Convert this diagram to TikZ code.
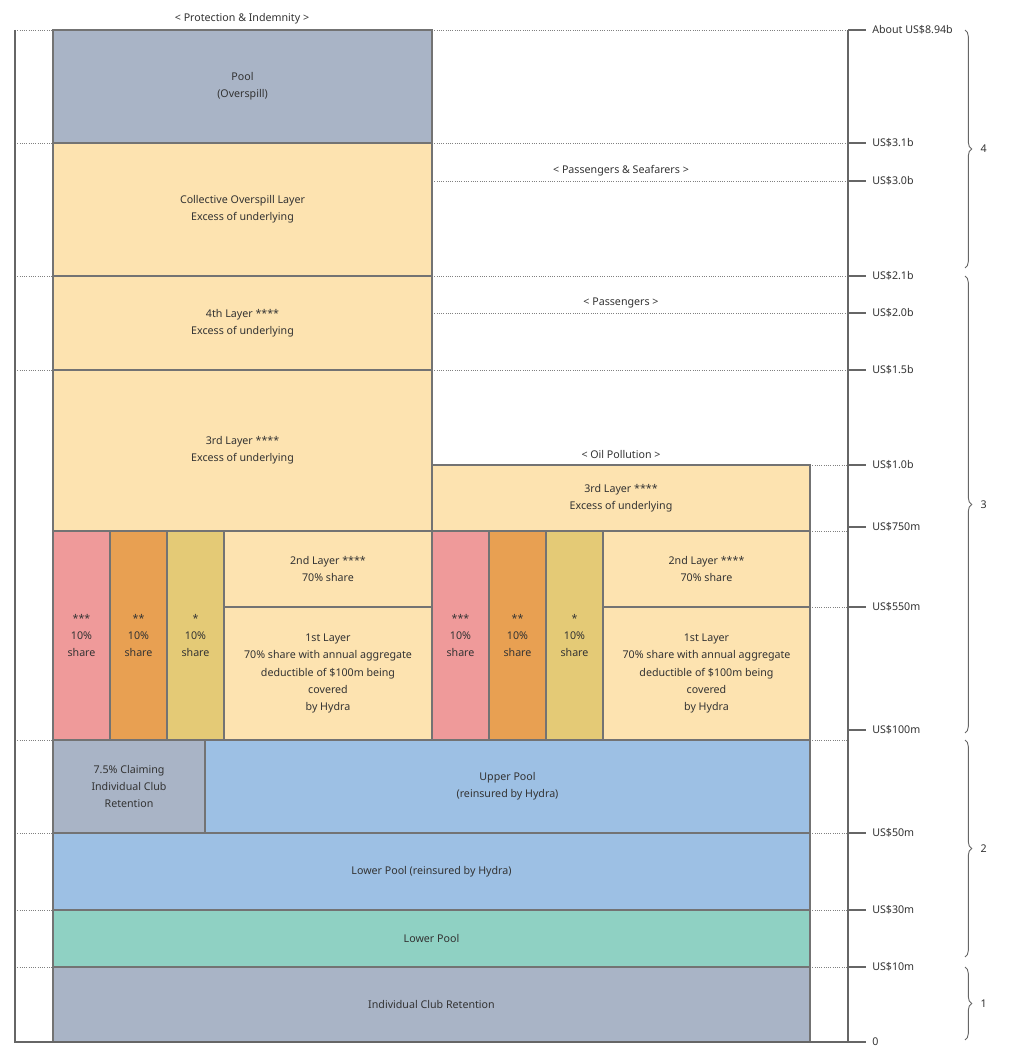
\documentclass[tikz,border=0pt]{standalone}
\usepackage{fontspec}
\setmainfont{Noto Sans}
\usetikzlibrary{decorations.pathreplacing}
\definecolor{poolgray}{HTML}{A9B4C6}
\definecolor{layer}{HTML}{FDE3B0}
\definecolor{pinkc}{HTML}{EF9A9A}
\definecolor{orangec}{HTML}{E8A052}
\definecolor{yellowc}{HTML}{E4CA76}
\definecolor{bluec}{HTML}{9DC0E4}
\definecolor{tealc}{HTML}{8FD1C3}
\tikzset{
  blk/.style={draw=gray!90!black, line width=0.9pt},
  txt/.style={align=center, font=\fontsize{8}{13}\selectfont, text=black!80},
  dots/.style={densely dotted, gray, line width=0.7pt},
  axis/.style={gray!80!black, line width=1.2pt},
  lbl/.style={anchor=west, font=\fontsize{8}{10}\selectfont, text=black!80, inner sep=0pt}
}
% block: name, x1, y1, x2, y2, colour, text
\newcommand{\blk}[7]{%
  \filldraw[blk, fill=#6] (#2,#3) rectangle (#4,#5);
  \node[txt] (#1) at ({(#2+#4)/2},{(#3+#5)/2}) {#7};}
\begin{document}
\begin{tikzpicture}[x=0.75pt, y=-0.75pt]
  \useasboundingbox (0,0) rectangle (1024,1056);

  % guide lines
  \foreach \y in {30,143,276,370,740,833,910,967}
    \draw[dots] (15,\y) -- (53,\y);
  \foreach \y in {30,143,181,276,313,370}
    \draw[dots] (432,\y) -- (848,\y);
  \foreach \y in {465,531,607,740,833,910,967}
    \draw[dots] (810,\y) -- (848,\y);

  % left column
  \blk{pool}{53}{30}{432}{143}{poolgray}{Pool\\(Overspill)}
  \blk{colo}{53}{143}{432}{276}{layer}{Collective Overspill Layer\\Excess of underlying}
  \blk{lfour}{53}{276}{432}{370}{layer}{4th Layer ****\\Excess of underlying}
  \blk{lthree}{53}{370}{432}{531}{layer}{3rd Layer ****\\Excess of underlying}
  \blk{lsa}{53}{531}{110}{740}{pinkc}{***\\10\%\\share}
  \blk{lsb}{110}{531}{167}{740}{orangec}{**\\10\%\\share}
  \blk{lsc}{167}{531}{224}{740}{yellowc}{*\\10\%\\share}
  \blk{ltwo}{224}{531}{432}{607}{layer}{2nd Layer ****\\70\% share}
  \blk{lone}{224}{607}{432}{740}{layer}{1st Layer\\70\% share with annual aggregate\\deductible of \$100m being\\covered\\by Hydra}

  % right column
  \blk{rthree}{432}{465}{810}{531}{layer}{3rd Layer ****\\Excess of underlying}
  \blk{rsa}{432}{531}{489}{740}{pinkc}{***\\10\%\\share}
  \blk{rsb}{489}{531}{546}{740}{orangec}{**\\10\%\\share}
  \blk{rsc}{546}{531}{603}{740}{yellowc}{*\\10\%\\share}
  \blk{rtwo}{603}{531}{810}{607}{layer}{2nd Layer ****\\70\% share}
  \blk{rone}{603}{607}{810}{740}{layer}{1st Layer\\70\% share with annual aggregate\\deductible of \$100m being\\covered\\by Hydra}

  % pools
  \blk{claim}{53}{740}{205}{833}{poolgray}{7.5\% Claiming\\Individual Club\\Retention}
  \blk{upper}{205}{740}{810}{833}{bluec}{Upper Pool\\(reinsured by Hydra)}
  \blk{lower}{53}{833}{810}{910}{bluec}{Lower Pool (reinsured by Hydra)}
  \blk{lowp}{53}{910}{810}{967}{tealc}{Lower Pool}
  \blk{indiv}{53}{967}{810}{1042}{poolgray}{Individual Club Retention}

  % titles
  \node[txt] (tpi) at (242,19) {< Protection \& Indemnity >};
  \node[txt] (tps) at (621,171) {< Passengers \& Seafarers >};
  \node[txt] (tpa) at (621,303) {< Passengers >};
  \node[txt] (toil) at (621,454) {< Oil Pollution >};

  % frame and axis
  \draw[axis] (15,30) -- (15,1042) -- (848,1042);
  \draw[axis] (848,30) -- (848,1042);
  \foreach \y/\t in {30/About US\$8.94b, 143/US\$3.1b, 181/US\$3.0b, 276/US\$2.1b,
      313/US\$2.0b, 370/US\$1.5b, 465/US\$1.0b, 527/US\$750m, 607/US\$550m,
      730/US\$100m, 833/US\$50m, 910/US\$30m, 967/US\$10m, 1042/0} {
    \draw[axis] (848,\y) -- (866,\y);
    \node[lbl] at (872,\y) {\t};
  }

  % braces
  \tikzset{br/.style={decorate, decoration={brace, amplitude=5pt}, gray!80!black, line width=0.7pt}}
  \draw[br] (965,30) -- (965,268) node[midway, right=8pt, txt] (g4) {4};
  \draw[br] (965,276) -- (965,733) node[midway, right=8pt, txt] (g3) {3};
  \draw[br] (965,740) -- (965,957) node[midway, right=8pt, txt] (g2) {2};
  \draw[br] (965,967) -- (965,1040) node[midway, right=8pt, txt] (g1) {1};
\end{tikzpicture}
\end{document}
